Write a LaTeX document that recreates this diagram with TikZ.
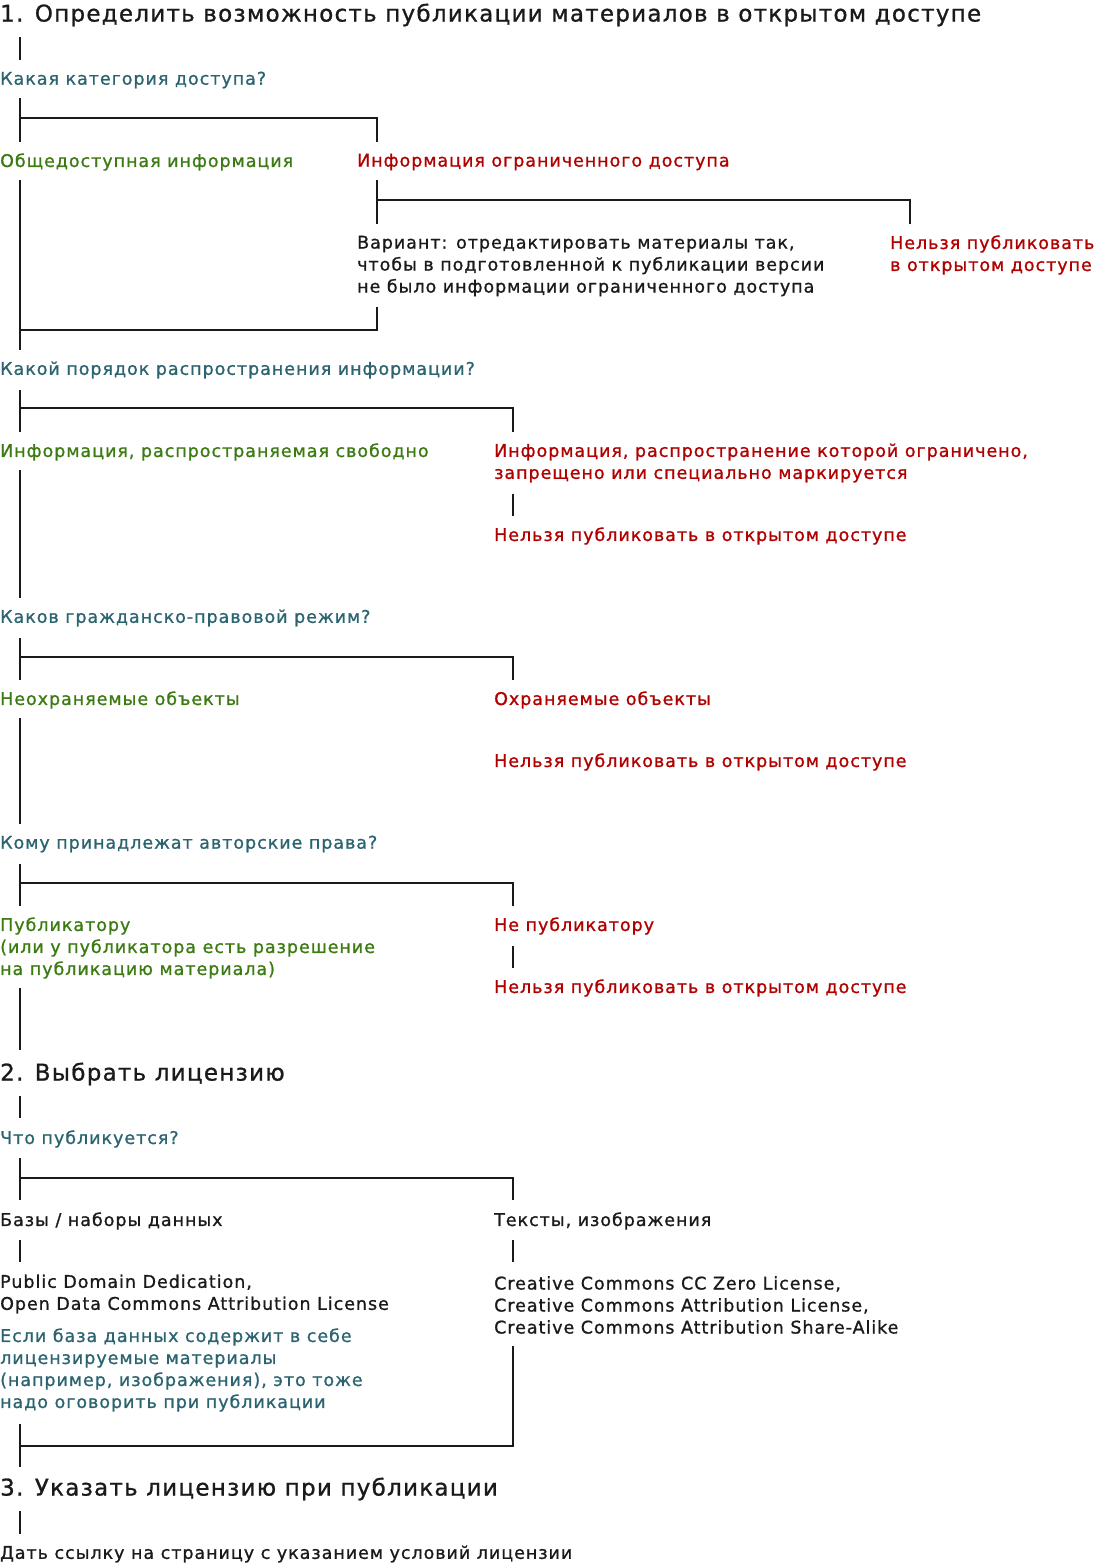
\documentclass[tikz,border=0pt]{standalone}
\usepackage{fontspec}
\setmainfont[LetterSpace=5.5,FakeBold=1]{DejaVu Sans}
\definecolor{qc}{HTML}{2B6470}
\definecolor{gc}{HTML}{3C7A12}
\definecolor{rc}{HTML}{B00000}
\definecolor{kc}{HTML}{1A1A1A}
\tikzset{
 t/.style={anchor=west,inner sep=0pt,font=\fontsize{17.5}{22}\selectfont,align=left,text=kc},
 q/.style={t,text=qc}, g/.style={t,text=gc}, r/.style={t,text=rc},
 h/.style={anchor=west,inner sep=0pt,font=\fontsize{23}{26}\selectfont,text=kc},
 ln/.style={draw=kc,line width=1.6pt}
}
\begin{document}
\begin{tikzpicture}[x=1pt,y=-1pt]
\useasboundingbox (0,0) rectangle (1101,1565);
\node[h] (h1) at (0,15) {1. Определить возможность публикации материалов в открытом доступе};
\node[q] (q1) at (0,80) {Какая категория доступа?};
\node[g] (a1) at (0,162) {Общедоступная информация};
\node[r] (b1) at (357,162) {Информация ограниченного доступа};
\node[t] (v1) at (357,266) {Вариант: отредактировать материалы так,\\чтобы в подготовленной к публикации версии\\не было информации ограниченного доступа};
\node[r] (n1) at (890,255) {Нельзя публиковать\\в открытом доступе};
\node[q] (q2) at (0,370) {Какой порядок распространения информации?};
\node[g] (a2) at (0,452) {Информация, распространяемая свободно};
\node[r] (b2) at (494,463) {Информация, распространение которой ограничено,\\запрещено или специально маркируется};
\node[r] (n2) at (494,536) {Нельзя публиковать в открытом доступе};
\node[q] (q3) at (0,618) {Каков гражданско-правовой режим?};
\node[g] (a3) at (0,700) {Неохраняемые объекты};
\node[r] (b3) at (494,700) {Охраняемые объекты};
\node[r] (n3) at (494,762) {Нельзя публиковать в открытом доступе};
\node[q] (q4) at (0,844) {Кому принадлежат авторские права?};
\node[g] (a4) at (0,948) {Публикатору\\(или у публикатора есть разрешение\\на публикацию материала)};
\node[r] (b4) at (494,926) {Не публикатору};
\node[r] (n4) at (494,988) {Нельзя публиковать в открытом доступе};
\node[h] (h2) at (0,1074) {2. Выбрать лицензию};
\node[q] (q5) at (0,1139) {Что публикуется?};
\node[t] (a5) at (0,1221) {Базы / наборы данных};
\node[t] (b5) at (494,1221) {Тексты, изображения};
\node[t] (l1) at (0,1294) {Public Domain Dedication,\\Open Data Commons Attribution License};
\node[t] (l2) at (494,1305) {Creative Commons CC Zero License,\\Creative Commons Attribution License,\\Creative Commons Attribution Share-Alike};
\node[q] (nt) at (0,1370) {Если база данных содержит в себе\\лицензируемые материалы\\(например, изображения), это тоже\\надо оговорить при публикации};
\node[h] (h3) at (0,1489) {3. Указать лицензию при публикации};
\node[t] (fin) at (0,1554) {Дать ссылку на страницу с указанием условий лицензии};
% connectors
\draw[ln] (20,37)--(20,60);
\draw[ln] (20,98)--(20,142) (20,118)--(377,118)--(377,142);
\draw[ln] (377,180)--(377,224) (377,200)--(910,200)--(910,224);
\draw[ln] (20,180)--(20,350) (20,330)--(377,330)--(377,307);
\draw[ln] (20,390)--(20,432) (20,408)--(513,408)--(513,432);
\draw[ln] (513,494)--(513,516);
\draw[ln] (20,470)--(20,598);
\draw[ln] (20,638)--(20,680) (20,657)--(513,657)--(513,680);
\draw[ln] (20,718)--(20,824);
\draw[ln] (20,864)--(20,906) (20,883)--(513,883)--(513,906);
\draw[ln] (513,946)--(513,968);
\draw[ln] (20,988)--(20,1050);
\draw[ln] (20,1096)--(20,1118);
\draw[ln] (20,1158)--(20,1200) (20,1178)--(513,1178)--(513,1200);
\draw[ln] (20,1240)--(20,1262) (513,1240)--(513,1262);
\draw[ln] (20,1424)--(20,1467) (20,1446)--(513,1446)--(513,1346);
\draw[ln] (20,1511)--(20,1534);
\end{tikzpicture}
\end{document}
